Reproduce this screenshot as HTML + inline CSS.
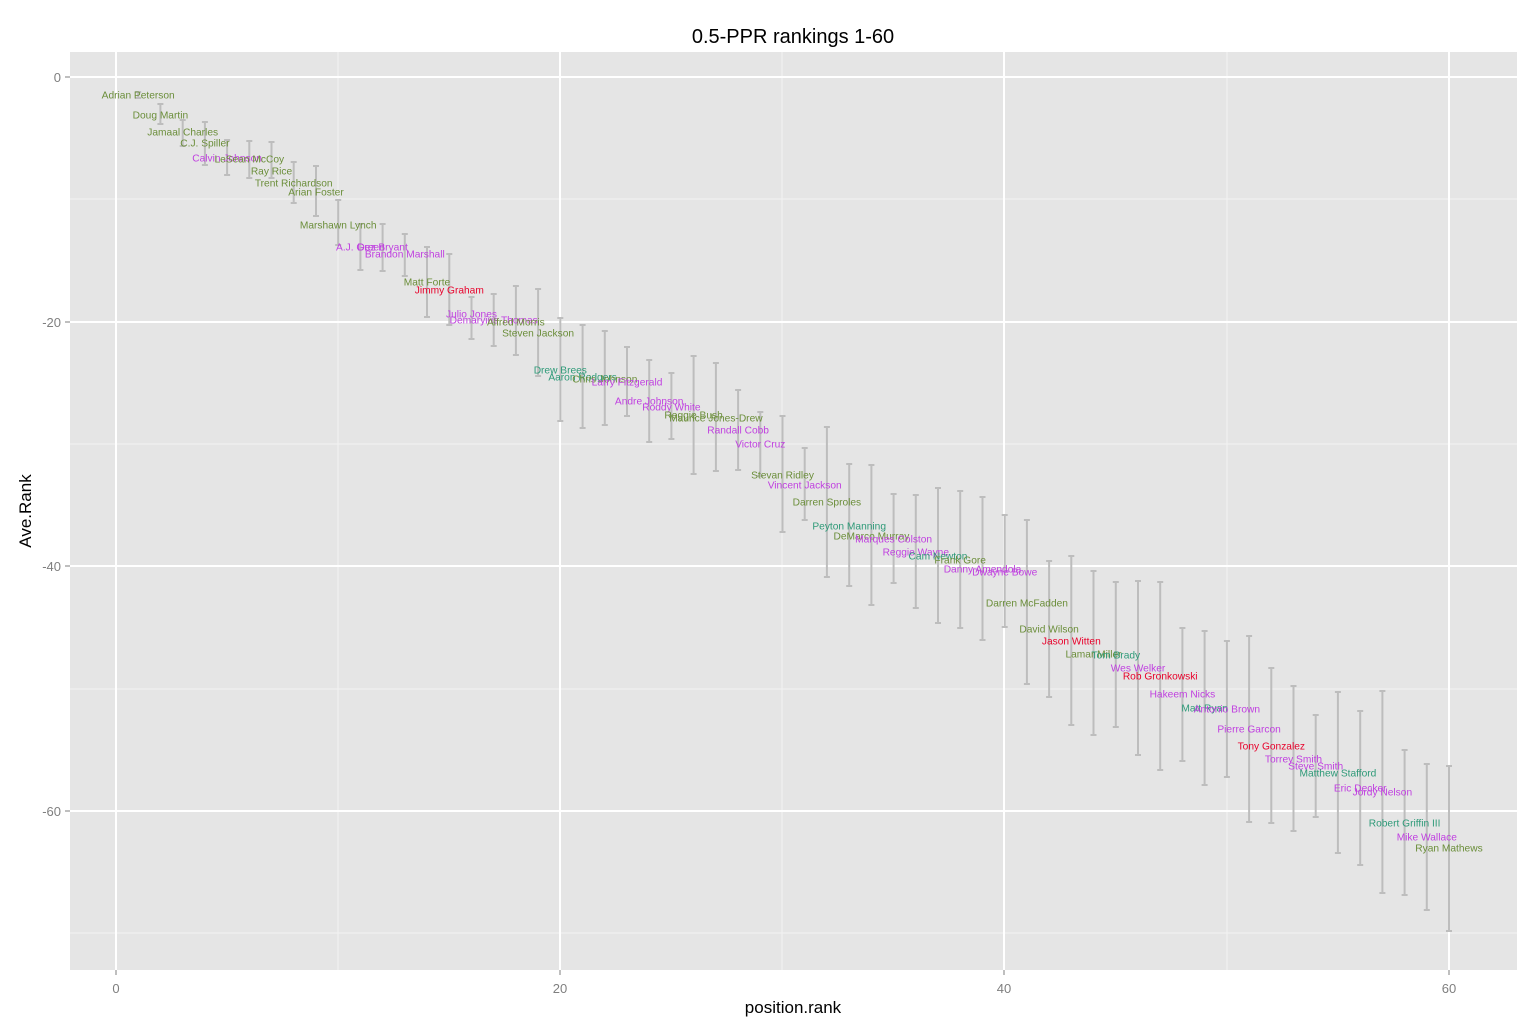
<!DOCTYPE html>
<html><head><meta charset="utf-8"><style>body{margin:0;background:#fff}svg{display:block}.l text{font-size:10.2px}.tk{font-size:13px;fill:#7f7f7f}</style></head><body>
<svg width="1535" height="1027" xmlns="http://www.w3.org/2000/svg" font-family="Liberation Sans, sans-serif">
<rect x="0" y="0" width="1535" height="1027" fill="#fff"/>
<rect x="70" y="52" width="1447" height="918" fill="#e5e5e5"/>
<g stroke="#f2f2f2" stroke-width="1">
<line x1="338" y1="52" x2="338" y2="970"/><line x1="782" y1="52" x2="782" y2="970"/><line x1="1227" y1="52" x2="1227" y2="970"/>
<line x1="70" y1="199" x2="1517" y2="199"/><line x1="70" y1="444" x2="1517" y2="444"/><line x1="70" y1="689" x2="1517" y2="689"/><line x1="70" y1="933" x2="1517" y2="933"/>
</g>
<g stroke="#fff" stroke-width="2">
<line x1="116" y1="52" x2="116" y2="970"/><line x1="560" y1="52" x2="560" y2="970"/><line x1="1004" y1="52" x2="1004" y2="970"/><line x1="1449" y1="52" x2="1449" y2="970"/>
<line x1="70" y1="77" x2="1517" y2="77"/><line x1="70" y1="322" x2="1517" y2="322"/><line x1="70" y1="566" x2="1517" y2="566"/><line x1="70" y1="811" x2="1517" y2="811"/>
</g>
<path stroke="#bdbdbd" stroke-width="2" fill="none" d="
M138.2 92V98M135.2 92h6M135.2 98h6
M160.4 104V124M157.4 104h6M157.4 124h6
M182.7 120V146M179.7 120h6M179.7 146h6
M204.9 122V165M201.9 122h6M201.9 165h6
M227.1 140V175M224.1 140h6M224.1 175h6
M249.3 141V178M246.3 141h6M246.3 178h6
M271.5 142V178M268.5 142h6M268.5 178h6
M293.7 162V203M290.7 162h6M290.7 203h6
M316.0 166V216M313.0 166h6M313.0 216h6
M338.2 200V245M335.2 200h6M335.2 245h6
M360.4 224V270M357.4 224h6M357.4 270h6
M382.6 224V271M379.6 224h6M379.6 271h6
M404.8 234V276M401.8 234h6M401.8 276h6
M427.0 247V317M424.0 247h6M424.0 317h6
M449.3 254V325M446.3 254h6M446.3 325h6
M471.5 297V339M468.5 297h6M468.5 339h6
M493.7 294V346M490.7 294h6M490.7 346h6
M515.9 286V355M512.9 286h6M512.9 355h6
M538.1 289V376M535.1 289h6M535.1 376h6
M560.3 318V421M557.3 318h6M557.3 421h6
M582.6 325V428M579.6 325h6M579.6 428h6
M604.8 331V425M601.8 331h6M601.8 425h6
M627.0 347V416M624.0 347h6M624.0 416h6
M649.2 360V442M646.2 360h6M646.2 442h6
M671.4 373V439M668.4 373h6M668.4 439h6
M693.6 356V474M690.6 356h6M690.6 474h6
M715.9 363V471M712.9 363h6M712.9 471h6
M738.1 390V470M735.1 390h6M735.1 470h6
M760.3 412V476M757.3 412h6M757.3 476h6
M782.5 416V532M779.5 416h6M779.5 532h6
M804.7 448V520M801.7 448h6M801.7 520h6
M826.9 427V577M823.9 427h6M823.9 577h6
M849.2 464V586M846.2 464h6M846.2 586h6
M871.4 465V605M868.4 465h6M868.4 605h6
M893.6 494V583M890.6 494h6M890.6 583h6
M915.8 495V608M912.8 495h6M912.8 608h6
M938.0 488V623M935.0 488h6M935.0 623h6
M960.2 491V628M957.2 491h6M957.2 628h6
M982.5 497V640M979.5 497h6M979.5 640h6
M1004.7 515V627M1001.7 515h6M1001.7 627h6
M1026.9 520V684M1023.9 520h6M1023.9 684h6
M1049.1 561V697M1046.1 561h6M1046.1 697h6
M1071.3 556V725M1068.3 556h6M1068.3 725h6
M1093.5 571V735M1090.5 571h6M1090.5 735h6
M1115.8 582V727M1112.8 582h6M1112.8 727h6
M1138.0 581V755M1135.0 581h6M1135.0 755h6
M1160.2 582V770M1157.2 582h6M1157.2 770h6
M1182.4 628V761M1179.4 628h6M1179.4 761h6
M1204.6 631V785M1201.6 631h6M1201.6 785h6
M1226.9 641V777M1223.9 641h6M1223.9 777h6
M1249.1 636V822M1246.1 636h6M1246.1 822h6
M1271.3 668V823M1268.3 668h6M1268.3 823h6
M1293.5 686V831M1290.5 686h6M1290.5 831h6
M1315.7 715V817M1312.7 715h6M1312.7 817h6
M1337.9 692V853M1334.9 692h6M1334.9 853h6
M1360.2 711V865M1357.2 711h6M1357.2 865h6
M1382.4 691V893M1379.4 691h6M1379.4 893h6
M1404.6 750V895M1401.6 750h6M1401.6 895h6
M1426.8 764V910M1423.8 764h6M1423.8 910h6
M1449.0 766V931M1446.0 766h6M1446.0 931h6"/>
<g class="l" text-anchor="middle">
<text x="138.2" y="98.5" fill="#6b8e3a">Adrian Peterson</text>
<text x="160.4" y="118.5" fill="#6b8e3a">Doug Martin</text>
<text x="182.7" y="135.5" fill="#6b8e3a">Jamaal Charles</text>
<text x="204.9" y="146.5" fill="#6b8e3a">C.J. Spiller</text>
<text x="227.1" y="161.5" fill="#c040e0">Calvin Johnson</text>
<text x="249.3" y="162.5" fill="#6b8e3a">LeSean McCoy</text>
<text x="271.5" y="174.5" fill="#6b8e3a">Ray Rice</text>
<text x="293.7" y="186.5" fill="#6b8e3a">Trent Richardson</text>
<text x="316.0" y="195.5" fill="#6b8e3a">Arian Foster</text>
<text x="338.2" y="228.5" fill="#6b8e3a">Marshawn Lynch</text>
<text x="360.4" y="250.5" fill="#c040e0">A.J. Green</text>
<text x="382.6" y="250.5" fill="#c040e0">Dez Bryant</text>
<text x="404.8" y="257.5" fill="#c040e0">Brandon Marshall</text>
<text x="427.0" y="285.5" fill="#6b8e3a">Matt Forte</text>
<text x="449.3" y="293.5" fill="#e8002a">Jimmy Graham</text>
<text x="471.5" y="317.5" fill="#c040e0">Julio Jones</text>
<text x="493.7" y="323.5" fill="#c040e0">Demaryius Thomas</text>
<text x="515.9" y="325.5" fill="#6b8e3a">Alfred Morris</text>
<text x="538.1" y="336.5" fill="#6b8e3a">Steven Jackson</text>
<text x="560.3" y="373.5" fill="#2e9a78">Drew Brees</text>
<text x="582.6" y="380.5" fill="#2e9a78">Aaron Rodgers</text>
<text x="604.8" y="382.5" fill="#6b8e3a">Chris Johnson</text>
<text x="627.0" y="385.5" fill="#c040e0">Larry Fitzgerald</text>
<text x="649.2" y="404.5" fill="#c040e0">Andre Johnson</text>
<text x="671.4" y="410.5" fill="#c040e0">Roddy White</text>
<text x="693.6" y="418.5" fill="#6b8e3a">Reggie Bush</text>
<text x="715.9" y="421.5" fill="#6b8e3a">Maurice Jones-Drew</text>
<text x="738.1" y="433.5" fill="#c040e0">Randall Cobb</text>
<text x="760.3" y="447.5" fill="#c040e0">Victor Cruz</text>
<text x="782.5" y="478.5" fill="#6b8e3a">Stevan Ridley</text>
<text x="804.7" y="488.5" fill="#c040e0">Vincent Jackson</text>
<text x="826.9" y="505.5" fill="#6b8e3a">Darren Sproles</text>
<text x="849.2" y="529.5" fill="#2e9a78">Peyton Manning</text>
<text x="871.4" y="539.5" fill="#6b8e3a">DeMarco Murray</text>
<text x="893.6" y="542.5" fill="#c040e0">Marques Colston</text>
<text x="915.8" y="555.5" fill="#c040e0">Reggie Wayne</text>
<text x="938.0" y="559.5" fill="#2e9a78">Cam Newton</text>
<text x="960.2" y="563.5" fill="#6b8e3a">Frank Gore</text>
<text x="982.5" y="572.5" fill="#c040e0">Danny Amendola</text>
<text x="1004.7" y="575.5" fill="#c040e0">Dwayne Bowe</text>
<text x="1026.9" y="606.5" fill="#6b8e3a">Darren McFadden</text>
<text x="1049.1" y="632.5" fill="#6b8e3a">David Wilson</text>
<text x="1071.3" y="644.5" fill="#e8002a">Jason Witten</text>
<text x="1093.5" y="657.5" fill="#6b8e3a">Lamar Miller</text>
<text x="1115.8" y="658.5" fill="#2e9a78">Tom Brady</text>
<text x="1138.0" y="671.5" fill="#c040e0">Wes Welker</text>
<text x="1160.2" y="679.5" fill="#e8002a">Rob Gronkowski</text>
<text x="1182.4" y="697.5" fill="#c040e0">Hakeem Nicks</text>
<text x="1204.6" y="711.5" fill="#2e9a78">Matt Ryan</text>
<text x="1226.9" y="712.5" fill="#c040e0">Antonio Brown</text>
<text x="1249.1" y="732.5" fill="#c040e0">Pierre Garcon</text>
<text x="1271.3" y="749.5" fill="#e8002a">Tony Gonzalez</text>
<text x="1293.5" y="762.5" fill="#c040e0">Torrey Smith</text>
<text x="1315.7" y="769.5" fill="#c040e0">Steve Smith</text>
<text x="1337.9" y="776.5" fill="#2e9a78">Matthew Stafford</text>
<text x="1360.2" y="791.5" fill="#c040e0">Eric Decker</text>
<text x="1382.4" y="795.5" fill="#c040e0">Jordy Nelson</text>
<text x="1404.6" y="826.5" fill="#2e9a78">Robert Griffin III</text>
<text x="1426.8" y="840.5" fill="#c040e0">Mike Wallace</text>
<text x="1449.0" y="851.5" fill="#6b8e3a">Ryan Mathews</text>
</g>
<g class="tk" text-anchor="middle">
<text x="116" y="993">0</text><text x="560" y="993">20</text><text x="1004" y="993">40</text><text x="1449" y="993">60</text>
</g>
<g class="tk" text-anchor="end">
<text x="61" y="82">0</text><text x="61" y="327">-20</text><text x="61" y="571">-40</text><text x="61" y="816">-60</text>
</g>
<g stroke="#7f7f7f" stroke-width="1">
<line x1="116" y1="970" x2="116" y2="975"/><line x1="560" y1="970" x2="560" y2="975"/><line x1="1004" y1="970" x2="1004" y2="975"/><line x1="1449" y1="970" x2="1449" y2="975"/>
<line x1="65" y1="77" x2="70" y2="77"/><line x1="65" y1="322" x2="70" y2="322"/><line x1="65" y1="566" x2="70" y2="566"/><line x1="65" y1="811" x2="70" y2="811"/>
</g>
<text x="793" y="1013" style="font-size:17px" text-anchor="middle">position.rank</text>
<text transform="translate(31,511) rotate(-90)" style="font-size:17px" text-anchor="middle">Ave.Rank</text>
<text x="793" y="43" style="font-size:20px" text-anchor="middle">0.5-PPR rankings 1-60</text>
</svg>
</body></html>
